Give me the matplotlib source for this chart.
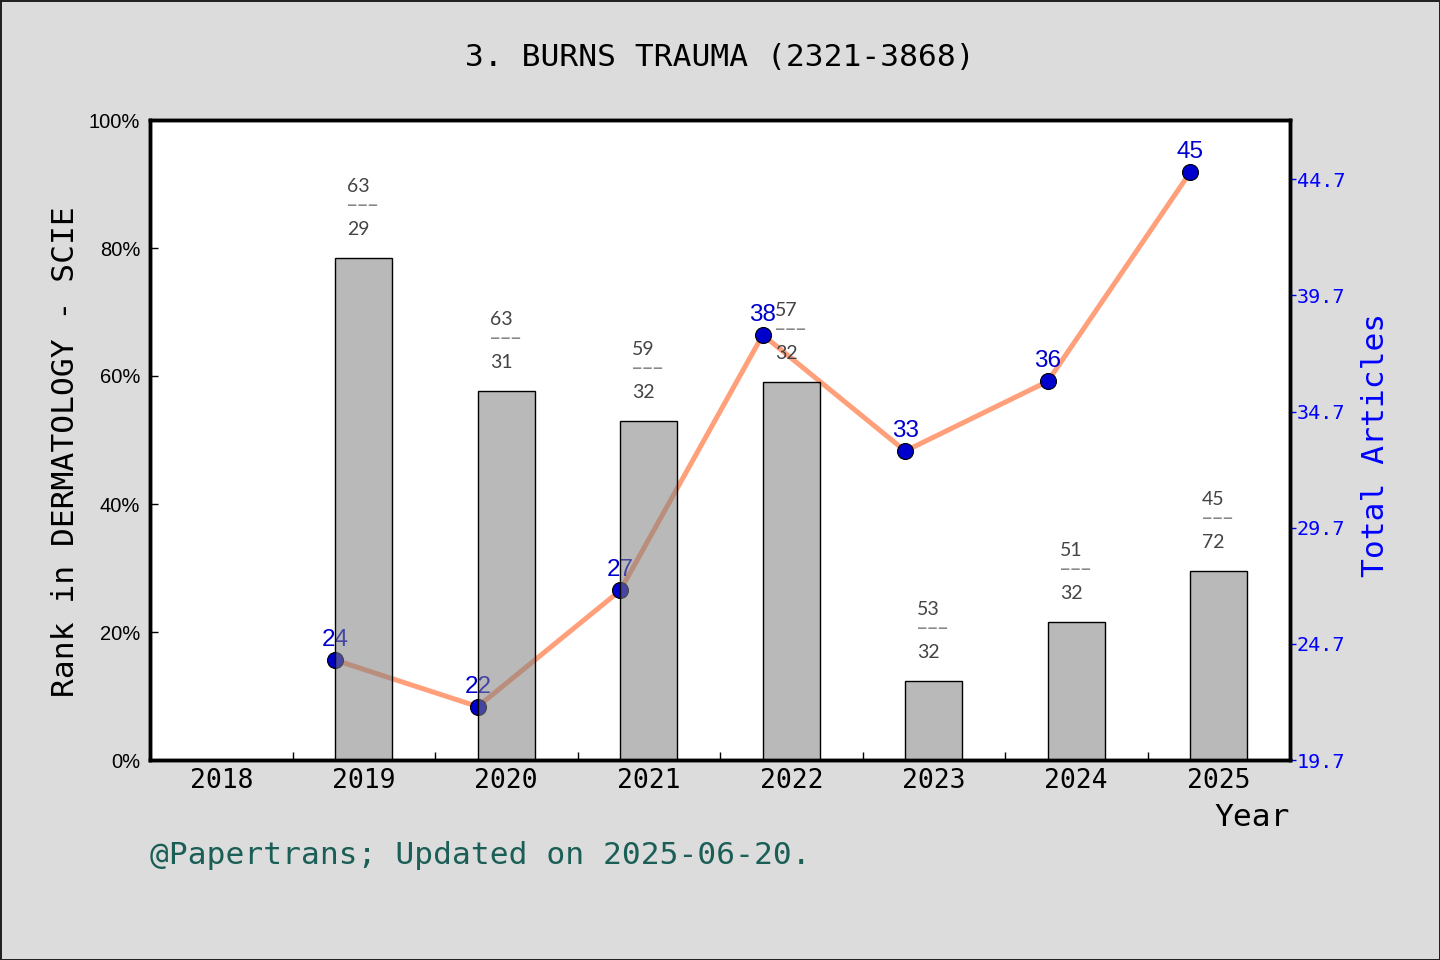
import numpy as np
import matplotlib
matplotlib.use('Agg')
import matplotlib.pyplot as plt

# chart data
years = ['2018', '2019', '2020', '2021', '2022', '2023', '2024', '2025']
rank_pct = [np.nan, 78.4, 57.7, 53.0, 59.1, 12.3, 21.6, 29.5]
rank_top = ['', '63', '63', '59', '57', '53', '51', '45']
rank_bottom = ['', '29', '31', '32', '32', '32', '32', '72']
articles = [np.nan, 24, 22, 27, 38, 33, 36, 45]

title = '3. BURNS TRAUMA (2321-3868)'
footer = '@Papertrans; Updated on 2025-06-20.'

mono = 'DejaVu Sans Mono'
sans = 'Liberation Sans'

fig = plt.figure( figsize = ( 14.4, 9.6 ), dpi = 100, facecolor = '#dcdcdc',
                  edgecolor = '#222222', linewidth = 2 )
ax = fig.add_axes( [ 150/1440, 1 - 760/960, 1140/1440, 640/960 ] )
ax2 = ax.twinx()

# bars above the line, like the reference
ax.set_zorder( ax2.get_zorder() + 1 )
ax.patch.set_visible( False )
ax2.patch.set_visible( True )
ax2.patch.set_facecolor( 'white' )

x = np.arange( len( years ) )
heights = np.array( rank_pct ) / 100.0
ax.bar( x, heights, width = 0.4, color = ( 0.5, 0.5, 0.5, 0.55 ),
        edgecolor = 'black', linewidth = 1.0 )

for i in range( len( years ) ) :
    if np.isnan( heights[i] ) :
        continue
    xy = ( x[i] - 0.116, heights[i] )
    ax.annotate( rank_bottom[i], xy, xytext = ( 0, 23 ), textcoords = 'offset pixels',
                 ha = 'left', va = 'baseline', fontsize = 14, family = 'Lato', color = '#444444' )
    ax.annotate( '\u2013\u2013\u2013', xy, xytext = ( 0, 53 ), textcoords = 'offset pixels',
                 ha = 'left', va = 'center', fontsize = 15, family = 'DejaVu Sans', color = '#888888' )
    ax.annotate( rank_top[i], xy, xytext = ( 0, 66 ), textcoords = 'offset pixels',
                 ha = 'left', va = 'baseline', fontsize = 14, family = 'Lato', color = '#444444' )

xl = x - 0.2
ax2.plot( xl, articles, color = '#ffa07a', linewidth = 3.6, zorder = 1 )
ax2.plot( xl, articles, linestyle = 'none', marker = 'o', markersize = 11.5,
          markerfacecolor = '#0000cd', markeredgecolor = 'black',
          markeredgewidth = 0.8, zorder = 2 )
for i in range( len( years ) ) :
    if np.isnan( articles[i] ) :
        continue
    ax2.annotate( '%d' % articles[i], ( xl[i], articles[i] ), xytext = ( 0, 14 ),
                  textcoords = 'offset pixels', ha = 'center', va = 'baseline',
                  fontsize = 17.5, family = sans, color = '#0000cd' )

ax.set_xlim( -0.5, 7.5 )
ax.set_ylim( 0, 1 )
ax2.set_ylim( 19.7, 45 * 1.05 )

ax.set_xticks( x )
ax.set_xticklabels( years, fontsize = 19, family = mono )
ax.set_xticks( x[:-1] + 0.5, minor = True )
ax.tick_params( axis = 'x', which = 'major', length = 0, pad = 6 )
ax.tick_params( axis = 'x', which = 'minor', direction = 'in', length = 6, width = 1 )

yt = np.arange( 0, 1.01, 0.2 )
ax.set_yticks( yt )
ax.set_yticklabels( [ '%d%%' % round( v * 100 ) for v in yt ], fontsize = 14.5, family = sans )
ax.tick_params( axis = 'y', direction = 'in', length = 6, width = 1, pad = 7 )

rt = np.arange( 19.7, 45.0, 5.0 )
ax2.set_yticks( rt )
ax2.set_yticklabels( [ '%.1f' % v for v in rt ], fontsize = 14.5, family = mono, color = 'blue' )
ax2.tick_params( axis = 'y', direction = 'out', length = 4, width = 1, color = 'blue', pad = 1 )

for a in ( ax, ax2 ) :
    for s in a.spines.values() :
        s.set_linewidth( 2.5 )
        s.set_color( 'black' )

fig.text( 0.5, 1 - 57/960, title, ha = 'center', va = 'center', fontsize = 22.5, family = mono )
fig.text( 66/1440, 1 - 452/960, 'Rank in DERMATOLOGY - SCIE', rotation = 90,
          ha = 'center', va = 'center', fontsize = 22.5, family = mono )
fig.text( 1375/1440, 1 - 445/960, 'Total Articles', rotation = 90, color = 'blue',
          ha = 'center', va = 'center', fontsize = 22.5, family = mono )
fig.text( 1290/1440, 1 - 817/960, 'Year', ha = 'right', va = 'center',
          fontsize = 22.5, family = mono )
fig.text( 150/1440, 1 - 855/960, footer, ha = 'left', va = 'center',
          fontsize = 22.5, family = mono, color = '#1a5e56' )

fig.savefig( 'out.png', dpi = 100, facecolor = fig.get_facecolor(),
             edgecolor = fig.get_edgecolor() )
